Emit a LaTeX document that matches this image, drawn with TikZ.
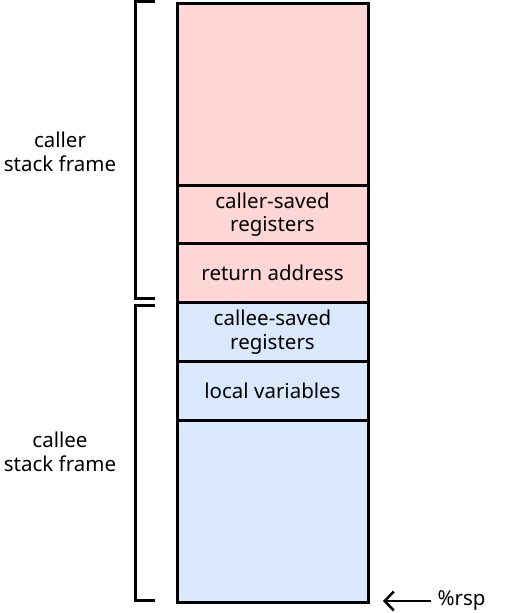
\documentclass[tikz,border=0pt]{standalone}
\usepackage{fontspec}
\setmainfont{Noto Sans}
\usetikzlibrary{arrows.meta}
\definecolor{pinkfill}{HTML}{FFD6D6}
\definecolor{bluefill}{HTML}{DAE8FC}
\begin{document}
\begin{tikzpicture}[x=1pt,y=-1pt,
  cell/.style={draw=black,line width=3pt,minimum width=191pt,inner sep=0pt,align=center,font=\fontsize{20.5}{23.5}\selectfont},
  lbl/.style={align=center,font=\fontsize{20.5}{23.5}\selectfont},
  brk/.style={line width=3pt,line cap=butt}]
\useasboundingbox (0,0) rectangle (521,613);
\node[cell,fill=pinkfill,minimum height=182.5pt,anchor=north west] (top) at (175.5,1.5) {};
\node[cell,fill=pinkfill,minimum height=58pt,anchor=north west] (csr) at (175.5,184) {caller-saved\\registers};
\node[cell,fill=pinkfill,minimum height=59pt,anchor=north west] (ret) at (175.5,242) {return address};
\node[cell,fill=bluefill,minimum height=59pt,anchor=north west] (cee) at (175.5,301) {callee-saved\\registers};
\node[cell,fill=bluefill,minimum height=59pt,anchor=north west] (loc) at (175.5,360) {local variables};
\node[cell,fill=bluefill,minimum height=181.5pt,anchor=north west] (bot) at (175.5,419) {};
\coordinate (b1t) at (155,1.5);
\coordinate (b1b) at (155,298);
\coordinate (b2t) at (155,305);
\coordinate (b2b) at (155,600.5);
\draw[brk] (b1t) -- (135.5,1.5) -- (135.5,298) -- (b1b);
\draw[brk] (b2t) -- (135.5,305) -- (135.5,600.5) -- (b2b);
\node[lbl] (caller) at (60,152) {caller\\stack frame};
\node[lbl] (callee) at (60,452) {callee\\stack frame};
\node[lbl,anchor=west] (rsp) at (434,601) {\%rsp};
\coordinate (arrs) at (431,601);
\draw[line width=2.5pt,-{Straight Barb[length=9pt,width=19pt]}] (arrs) -- (383,601);
\end{tikzpicture}
\end{document}
